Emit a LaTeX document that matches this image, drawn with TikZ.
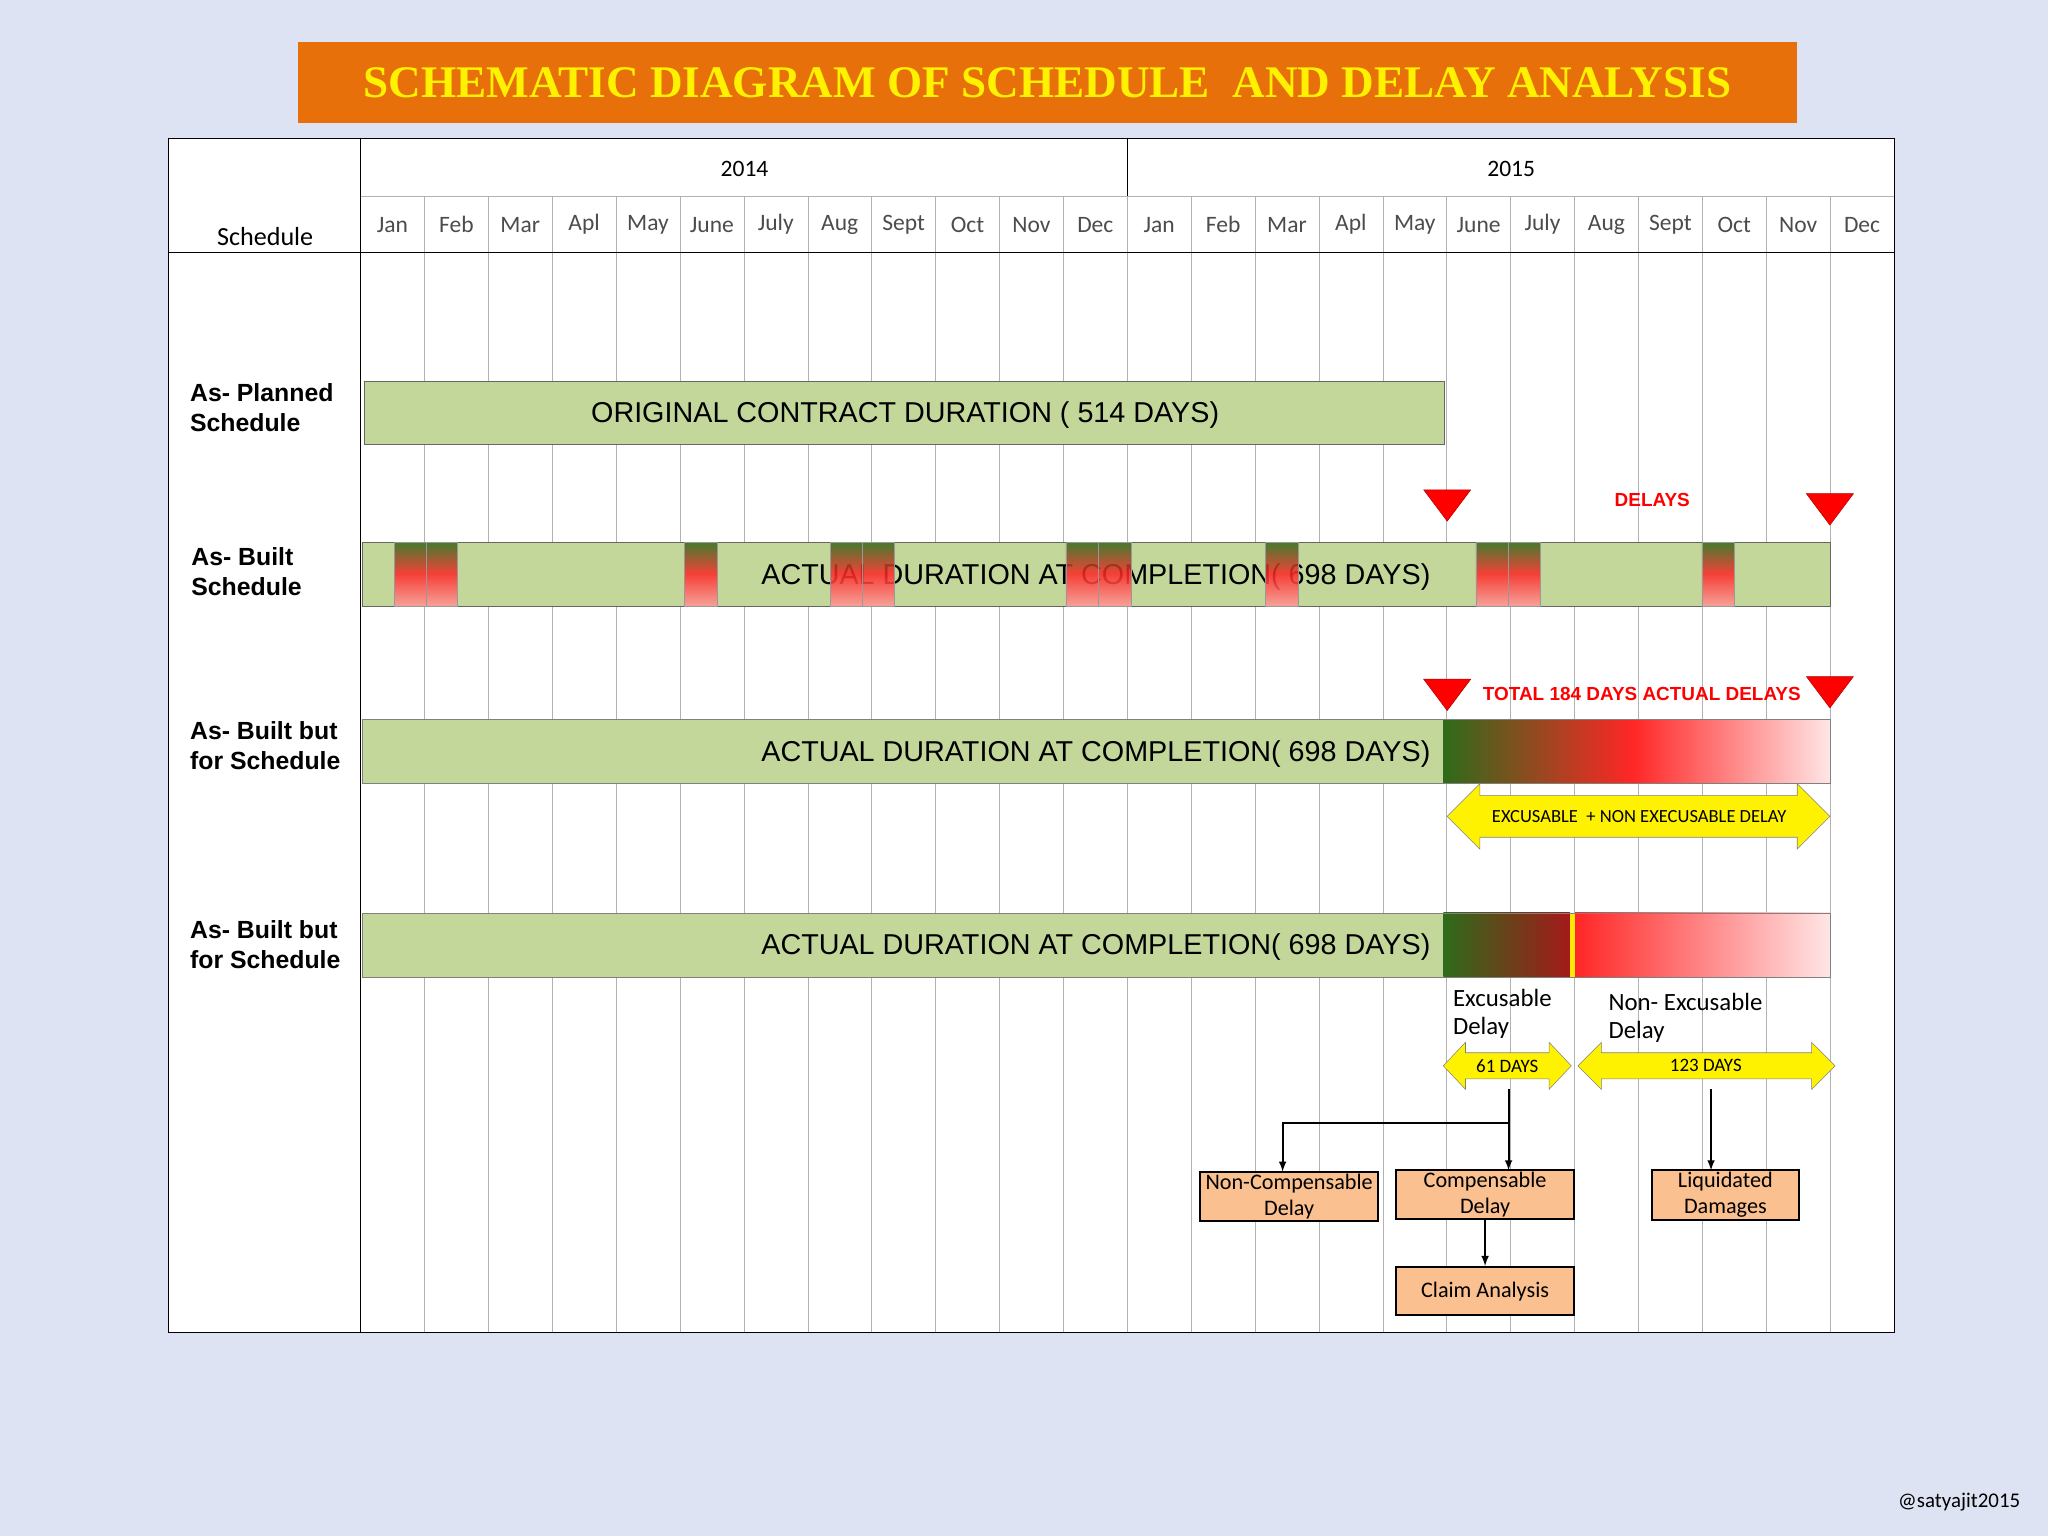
\documentclass[tikz,border=0pt]{standalone}
\usepackage{fontspec}
\setmainfont{Liberation Sans}
\newfontfamily\carl{Carlito}
\newfontfamily\tser{Liberation Serif}
\definecolor{bg}{HTML}{DDE3F2}
\definecolor{barg}{HTML}{C4D79B}
\definecolor{dg}{HTML}{2E6B1A}
\definecolor{org}{HTML}{E8700A}
\definecolor{boxc}{HTML}{FAC090}
\tikzset{
 bar/.style={draw=black!60,fill=barg},
 bartxt/.style={font=\fontsize{22}{25}\selectfont},
 rowlbl/.style={font=\bfseries\fontsize{19}{23}\selectfont,align=left,anchor=west},
 mon/.style={font=\carl\fontsize{18}{20}\selectfont,text=black!70},
 tri/.style={fill=red,draw=red!70!black},
 pbox/.style={draw,line width=1.6pt,fill=boxc,font=\carl\fontsize{17}{20}\selectfont,align=center,inner sep=1pt},
 yarr/.style={fill=yellow,draw=black!50},
 redt/.style={text=red,font=\bfseries\fontsize{14.5}{16}\selectfont},
 stripe/.style={top color=dg,bottom color=red!40,middle color=red!85,fill opacity=0.85},
 conn/.style={line width=1.6pt,-latex},
}
\begin{document}
\begin{tikzpicture}[x=1pt,y=-1pt]
\fill[bg] (0,0) rectangle (1568,1176);
\fill[white] (129,106) rectangle (1450,1020);
% grid
\foreach \i in {1,...,23}{\draw[black!30] ({276+48.92*\i},150) -- ({276+48.92*\i},1020);}
\draw[black!30] (276,150) -- (1450,150);
\draw (863,106) -- (863,150);
\draw (129,106) rectangle (1450,1020);
\draw (276,106) -- (276,1020);
\draw (129,193) -- (1450,193);
\node[font=\carl\fontsize{18}{20}\selectfont] (y14) at (570,129) {2014};
\node[font=\carl\fontsize{18}{20}\selectfont] (y15) at (1157,129) {2015};
\node[font=\carl\fontsize{20}{22}\selectfont] (sch) at (203,181) {Schedule};
\foreach \m [count=\i from 0] in {Jan,Feb,Mar,Apl,May,June,July,Aug,Sept,Oct,Nov,Dec,Jan,Feb,Mar,Apl,May,June,July,Aug,Sept,Oct,Nov,Dec}
 {\node[mon] (m\i) at ({276+48.92*(\i+0.5)},172) {\m};}
% title
\node[fill=org,minimum width=1148pt,minimum height=62pt,text=yellow,font=\tser\bfseries\fontsize{34.6}{36}\selectfont] (title) at (802,63) {SCHEMATIC DIAGRAM OF SCHEDULE\ \ AND DELAY ANALYSIS};
% row labels
\node[rowlbl] (l1) at (142,312) {As- Planned\\Schedule};
\node[rowlbl] (l2) at (143,438) {As- Built\\Schedule};
\node[rowlbl] (l3) at (142,571) {As- Built but\\for Schedule};
\node[rowlbl] (l4) at (142,723) {As- Built but\\for Schedule};
% planned bar
\draw[bar] (279,292) rectangle (1106,340);
\node[bartxt] (t1) at (693,318) {ORIGINAL CONTRACT DURATION ( 514 DAYS)};
% as built bar
\draw[bar] (277,415) rectangle (1401,464);
\node[bartxt] (t2) at (839,442) {ACTUAL DURATION AT COMPLETION( 698 DAYS)};
\foreach \a/\b in {302/326,326/350,524/549,636/660,660/685,816/841,841/866,969/994,1130/1155,1155/1179,1303/1328}
 {\shade[stripe] (\a,415) rectangle (\b,464); \draw[black!40] (\a,415) rectangle (\b,464);}
% bar 3
\draw[bar] (277,551) rectangle (1401,600);
\shade[left color=dg,right color=red!85] (1105,551) rectangle (1250,600);
\shade[left color=red!85,right color=red!10] (1250,551) rectangle (1401,600);
\draw[black!50] (277,551) rectangle (1401,600);
\node[bartxt] (t3) at (839,577) {ACTUAL DURATION AT COMPLETION( 698 DAYS)};
% bar 4
\draw[bar] (277,699) rectangle (1401,748);
\shade[left color=dg,right color=red!60!black!90] (1105,699) rectangle (1202,748);
\shade[left color=red!85,right color=red!10] (1206,699) rectangle (1401,748);
\fill[yellow!90!orange] (1202,699) rectangle (1206,748);
\draw[black!50] (277,699) rectangle (1401,748);
\node[bartxt] (t4) at (839,725) {ACTUAL DURATION AT COMPLETION( 698 DAYS)};
% triangles
\foreach \x/\y in {1108/375,1401/378,1108/520,1401/518}
 {\draw[tri] (\x-18,\y) -- (\x+18,\y) -- (\x,\y+24) -- cycle;}
\node[redt] (dl) at (1265,383) {DELAYS};
\node[redt] (tot) at (1257,531) {TOTAL 184 DAYS ACTUAL DELAYS};
% yellow arrows
\draw[yarr] (1108,625) -- (1133,600) -- (1133,609) -- (1376,609) -- (1376,600) -- (1401,625) -- (1376,650) -- (1376,641) -- (1133,641) -- (1133,650) -- cycle;
\node[font=\carl\fontsize{14.2}{15}\selectfont] (ex) at (1255,625) {EXCUSABLE\ \ + NON EXECUSABLE DELAY};
\draw[yarr] (1105,816) -- (1122,798) -- (1122,806) -- (1186,806) -- (1186,798) -- (1203,816) -- (1186,834) -- (1186,826) -- (1122,826) -- (1122,834) -- cycle;
\draw[yarr] (1208,816) -- (1226,798) -- (1226,806) -- (1387,806) -- (1387,798) -- (1405,816) -- (1387,834) -- (1387,826) -- (1226,826) -- (1226,834) -- cycle;
\node[font=\carl\fontsize{14.5}{15}\selectfont] (d61) at (1154,816) {61 DAYS};
\node[font=\carl\fontsize{14.5}{15}\selectfont] (d123) at (1306,816) {123 DAYS};
\node[font=\carl\fontsize{19}{21}\selectfont,align=left,anchor=north west] (exd) at (1109,754) {Excusable\\Delay};
\node[font=\carl\fontsize{19}{21}\selectfont,align=left,anchor=north west] (nexd) at (1228,757) {Non- Excusable\\Delay};
% boxes
\node[pbox,minimum width=136pt,minimum height=38pt] (nc) at (987,916) {Non-Compensable\\Delay};
\node[pbox,minimum width=136pt,minimum height=37pt] (cd) at (1137,914.5) {Compensable\\Delay};
\node[pbox,minimum width=112pt,minimum height=38pt] (ld) at (1321,915) {Liquidated\\Damages};
\node[pbox,minimum width=136pt,minimum height=37pt] (ca) at (1137,988.5) {Claim Analysis};
\coordinate (c61) at (1155,834);
\coordinate (c123) at (1310,834);
\draw[conn] (c61) -- (1155,896);
\draw[conn] (1155,860) -- (982,860) -- (982,897);
\draw[conn] (c123) -- (1310,896);
\draw[conn] (cd.south) -- (ca.north);
\node[font=\carl\fontsize{16}{18}\selectfont] (sig) at (1500,1150) {@satyajit2015};
\end{tikzpicture}
\end{document}
